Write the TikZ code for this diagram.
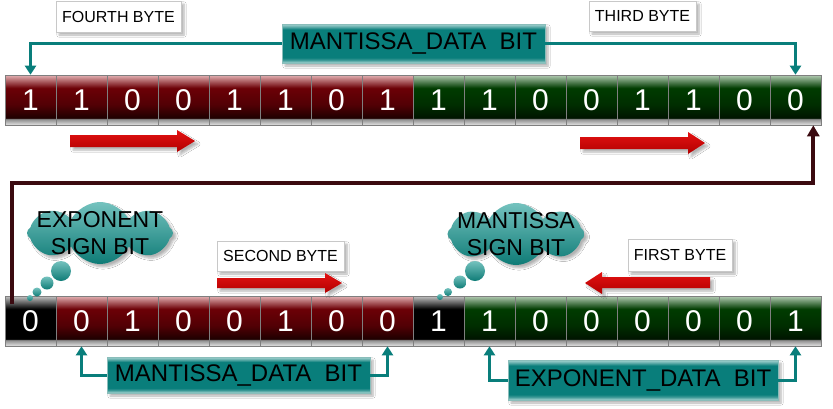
\documentclass[tikz,border=0pt]{standalone}
\usepackage{fontspec}
\setmainfont{Liberation Sans}
\usetikzlibrary{arrows.meta,calc,fit,backgrounds,shapes.symbols,shadows.blur}

\definecolor{bitred}{HTML}{6C0006}
\definecolor{bitredtop}{HTML}{E4B2B4}
\definecolor{bitredlow}{HTML}{1E0000}
\definecolor{bitgreen}{HTML}{003C00}
\definecolor{bitgreentop}{HTML}{B4CCB4}
\definecolor{bitgreenlow}{HTML}{001400}
\definecolor{bitgraytop}{HTML}{C4C4C4}
\definecolor{striplight}{HTML}{E2E2E2}
\definecolor{stripdark}{HTML}{8A8A8A}
\definecolor{cellline}{HTML}{7F7F7F}
\definecolor{labelline}{HTML}{C8C8C8}
\definecolor{tealmid}{HTML}{097E7B}
\definecolor{teallight}{HTML}{A9D6D3}
\definecolor{tealedge}{HTML}{8ABDBA}
\definecolor{loopcol}{HTML}{3B0A10}
\definecolor{cloudtop}{HTML}{74C2BE}
\definecolor{cloudlow}{HTML}{0E7B76}
\definecolor{flowtop}{HTML}{E31212}
\definecolor{flowlow}{HTML}{B20000}

\pgfdeclareverticalshading{redbitshade}{100bp}{color(0bp)=(striplight); color(25bp)=(striplight);
  color(31bp)=(stripdark); color(32bp)=(bitredlow); color(45bp)=(bitred!75!black);
  color(62bp)=(bitred); color(75bp)=(bitredtop); color(100bp)=(bitredtop)}
\pgfdeclareverticalshading{greenbitshade}{100bp}{color(0bp)=(striplight); color(25bp)=(striplight);
  color(31bp)=(stripdark); color(32bp)=(bitgreenlow); color(45bp)=(bitgreen!75!black);
  color(62bp)=(bitgreen); color(75bp)=(bitgreentop); color(100bp)=(bitgreentop)}
\pgfdeclareverticalshading{blackbitshade}{100bp}{color(0bp)=(striplight); color(25bp)=(striplight);
  color(31bp)=(stripdark); color(32bp)=(black); color(62bp)=(black);
  color(75bp)=(bitgraytop); color(100bp)=(bitgraytop)}
\pgfdeclareverticalshading{tealboxshade}{100bp}{color(0bp)=(teallight); color(25bp)=(teallight);
  color(29bp)=(tealmid!80!white); color(32bp)=(tealmid); color(68bp)=(tealmid);
  color(72bp)=(tealmid!60!white); color(75bp)=(teallight); color(100bp)=(teallight)}

\tikzset{
  softshadow/.style={blur shadow={shadow xshift=3pt,shadow yshift=-3pt,shadow blur steps=6,shadow opacity=30}},
  bitcell/.style={minimum width=51,minimum height=50,inner sep=0pt,draw=cellline,line width=0.6pt,
    text=white,font=\fontsize{30}{30}\selectfont,shade},
  redbit/.style={bitcell,shading=redbitshade},
  greenbit/.style={bitcell,shading=greenbitshade},
  blackbit/.style={bitcell,shading=blackbitshade},
  bytelabel/.style={draw=labelline,fill=white,inner sep=0pt,font=\fontsize{16}{16}\selectfont,softshadow},
  fieldbox/.style={draw=tealedge,shade,shading=tealboxshade,inner sep=0pt,
    font=\fontsize{24}{24}\selectfont,softshadow},
  fieldline/.style={draw=tealmid,line width=3pt,-{Triangle[width=11pt,length=9pt]}},
  loopline/.style={draw=loopcol,line width=4pt,-{Triangle[width=12pt,length=11pt]}},
  thought/.style={cloud,cloud puffs=8,cloud puff arc=125,aspect=2.3,inner sep=0pt,
    top color=cloudtop,bottom color=cloudlow},
  bubble/.style={top color=cloudtop,bottom color=cloudlow},
  cloudtext/.style={align=center,font=\fontsize{23}{27}\selectfont},
  byteflow/.style={top color=flowtop,bottom color=flowlow,softshadow},
}

\begin{document}
\begin{tikzpicture}[x=1pt,y=-1pt]
\path[use as bounding box,fill=white] (0,0) rectangle (833,408);

%% the two rows of bits
\foreach \bit/\kind [count=\i] in {1/redbit,1/redbit,0/redbit,0/redbit,1/redbit,1/redbit,0/redbit,1/redbit,
    1/greenbit,1/greenbit,0/greenbit,0/greenbit,1/greenbit,1/greenbit,0/greenbit,0/greenbit}
  \node[\kind] (t\i) at ({30.5+51*(\i-1)},100) {\bit};
\foreach \bit/\kind [count=\i] in {0/blackbit,0/redbit,1/redbit,0/redbit,0/redbit,1/redbit,0/redbit,0/redbit,
    1/blackbit,1/greenbit,0/greenbit,0/greenbit,0/greenbit,0/greenbit,0/greenbit,1/greenbit}
  \node[\kind] (b\i) at ({30.5+51*(\i-1)},321) {\bit};
\begin{scope}[on background layer]
  \node[fit=(t1)(t16),inner sep=0pt,fill=white,softshadow] (toprow) {};
  \node[fit=(b1)(b16),inner sep=0pt,fill=white,softshadow] (botrow) {};
\end{scope}

%% byte labels
\node[bytelabel,minimum width=125,minimum height=31] (fourth) at (118.5,16.5) {FOURTH BYTE};
\node[bytelabel,minimum width=107,minimum height=30] (third) at (642.5,16) {THIRD BYTE};
\node[bytelabel,minimum width=127,minimum height=30] (second) at (280.5,256) {SECOND BYTE};
\node[bytelabel,minimum width=104,minimum height=32] (first) at (680,255) {FIRST BYTE};

%% red flow arrows
\shade[byteflow] (70,135) -- (177,135) -- (177,130) -- (195,141) -- (177,152) -- (177,147) -- (70,147) -- cycle;
\shade[byteflow] (580,137) -- (688,137) -- (688,132) -- (705,143) -- (688,154) -- (688,149) -- (580,149) -- cycle;
\shade[byteflow] (217,278) -- (325,278) -- (325,273) -- (342,283) -- (325,293) -- (325,288) -- (217,288) -- cycle;
\shade[byteflow] (710,277) -- (602,277) -- (602,272) -- (585,283) -- (602,294) -- (602,288) -- (710,288) -- cycle;

%% field boxes and their connectors
\node[fieldbox,minimum width=263,minimum height=39] (mtop) at (413.5,43.5) {MANTISSA\_DATA\ \ BIT};
\node[fieldbox,minimum width=263,minimum height=36] (mbot) at (238.5,375) {MANTISSA\_DATA\ \ BIT};
\node[fieldbox,minimum width=270,minimum height=40] (ebot) at (643,380) {EXPONENT\_DATA\ \ BIT};
\draw[fieldline] (mtop.west) -| (t1.north);
\draw[fieldline] (mtop.east) -| (t16.north);
\draw[fieldline] (mbot.west) -| (b2.south);
\draw[fieldline] (mbot.east) -| (b8.south);
\draw[fieldline] (ebot.west) -| (b10.south);
\draw[fieldline] (ebot.east) -| (b16.south);

%% carry from the bottom row to the top row
\coordinate (loopstart) at ($(b1.north west)+(7,8)$);
\coordinate (loopend) at ($(t16.south east)+(-8,0)$);
\draw[loopline] (loopstart) -- ++(0,-121) -| (loopend);

%% thought clouds
\node[thought,minimum width=146,minimum height=62,softshadow] (expcloud) at (100,233) {};
\node[cloudtext] (exptext) at (expcloud.center) {EXPONENT\\SIGN BIT};
\foreach \x/\y/\r in {61/271/10,47/283/6.5,37/292/4.5,30/298/3}
  \shade[bubble] (\x,\y) circle (\r);
\node[thought,minimum width=137,minimum height=62,softshadow] (mancloud) at (516,234) {};
\node[cloudtext] (mantext) at (mancloud.center) {MANTISSA\\SIGN BIT};
\foreach \x/\y/\r in {475/271/10,460/282/6.5,448/292/4,440/297/3}
  \shade[bubble] (\x,\y) circle (\r);
\end{tikzpicture}
\end{document}
